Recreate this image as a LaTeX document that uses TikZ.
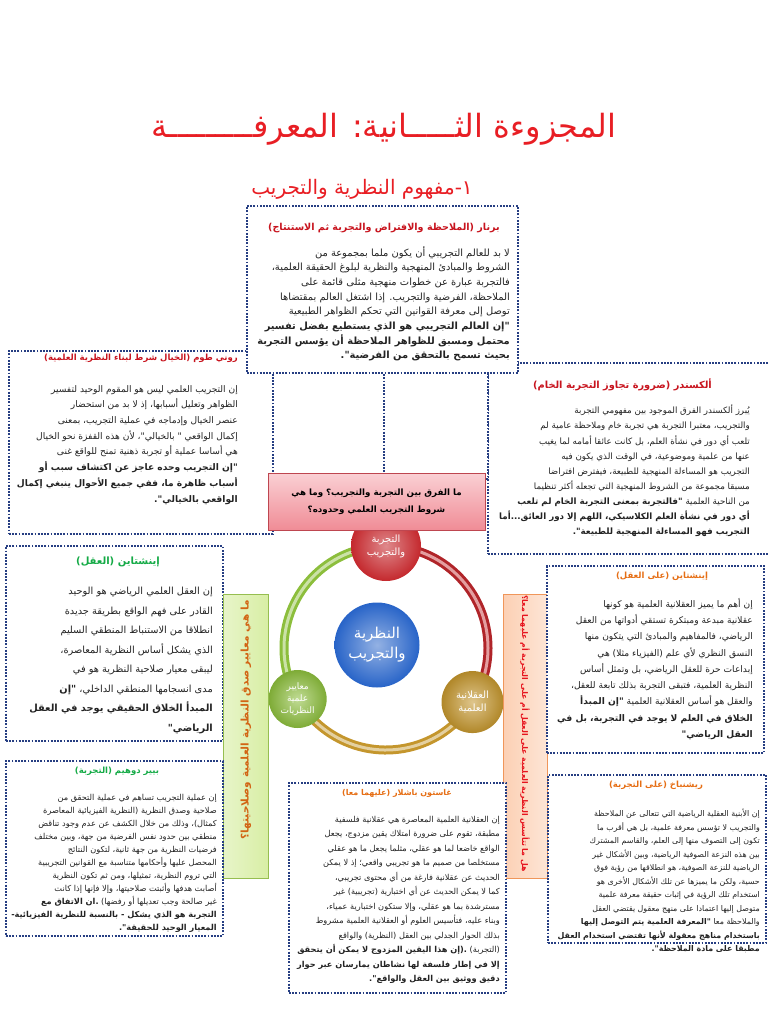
\documentclass[tikz,border=0pt]{standalone}
\usepackage{fontspec}
\usepackage{tikz}
\usetikzlibrary{positioning}
\TeXXeTstate=1
\newfontfamily\arabicfont[Script=Arabic]{DejaVu Sans}
\newcommand{\ar}[1]{{\arabicfont\beginR #1\endR}}
\definecolor{boxnavy}{RGB}{38,62,130}
\definecolor{titlered}{RGB}{232,30,36}
\definecolor{headred}{RGB}{200,20,30}
\definecolor{headgreen}{RGB}{20,170,70}
\definecolor{headorange}{RGB}{230,110,20}
\definecolor{bodygray}{RGB}{35,35,35}
\definecolor{qpinktop}{RGB}{250,208,212}
\definecolor{qpinkbot}{RGB}{240,140,150}
\definecolor{qpinkline}{RGB}{190,70,80}
\definecolor{sidegreen}{RGB}{216,238,165}
\definecolor{sidegreenline}{RGB}{150,190,80}
\definecolor{sidegreentext}{RGB}{210,100,20}
\definecolor{sidepeach}{RGB}{252,208,180}
\definecolor{sidepeachline}{RGB}{240,150,90}
\definecolor{sidepeachtext}{RGB}{230,20,30}
\definecolor{ballred}{RGB}{196,40,45}
\definecolor{ballgold}{RGB}{196,150,45}
\definecolor{ballgreen}{RGB}{140,190,60}
\definecolor{ballblue}{RGB}{40,100,200}
\tikzset{
  quotebox/.style={draw=boxnavy, line width=1.8pt, dash pattern=on 1.8pt off 1.4pt,
                   fill=white, anchor=north west, inner sep=0pt},
  qhead/.style={font=\fontsize{8.5}{10}\selectfont\bfseries, inner sep=0pt},
  qbody/.style={text=bodygray, align=right, anchor=north east, inner sep=0pt},
  sidebox/.style={draw, line width=0.8pt, inner sep=0pt},
  sidelab/.style={font=\fontsize{10.5}{13}\selectfont\bfseries, inner sep=0pt},
  ringarc/.style={line width=9pt},
  ringshine/.style={line width=3pt},
  ball/.style={circle, inner sep=0pt, text=white, align=center,
               font=\fontsize{10}{13}\selectfont},
}
\begin{document}
\begin{tikzpicture}[x=1pt,y=-1pt]
  \path[use as bounding box] (0,0) rectangle (768,1024);

  \node[font=\fontsize{32}{36}\selectfont, text=titlered] (title) at (384,129)
    {\ar{المجزوءة الثـــــانية: المعرفـــــــــة}};
  \node[font=\fontsize{20}{24}\selectfont, text=titlered] (subtitle) at (362,189)
    {\ar{١-مفهوم النظرية والتجريب}};

  % روني طوم
  \node[quotebox, minimum width=264, minimum height=183] (roni) at (8,350) {};
  \node[qhead, text=headred, anchor=east] (roniT) at (238,358)
    {\ar{روني طوم (الخيال شرط لبناء النظرية العلمية)}};
  \node[qbody, font=\fontsize{9.1}{15.7}\selectfont] (roniB) at (238,385)
    {\ar{إن التجريب العلمي ليس هو المقوم الوحيد لتفسير}\\
     \ar{الظواهر وتعليل أسبابها، إذ لا بد من استحضار}\\
     \ar{عنصر الخيال وإدماجه في عملية التجريب، بمعنى}\\
     \ar{إكمال الواقعي " بالخيالي"، لأن هذه القفزة نحو الخيال}\\
     \ar{هي أساسا عملية أو تجربة ذهنية تمنح للواقع غنى}\\
     \ar{\textbf{"إن التجريب وحده عاجز عن اكتشاف سبب أو}}\\
     \ar{\textbf{أسباب ظاهرة ما، ففي جميع الأحوال ينبغي إكمال}}\\
     \ar{\textbf{الواقعي بالخيالي".}}};

  % ألكسندر
  \node[quotebox, minimum width=283, minimum height=191] (alex) at (487,362) {};
  \node[qhead, text=headred, anchor=east, font=\fontsize{9.8}{12}\selectfont\bfseries] (alexT) at (712,385)
    {\ar{ألكسندر (ضرورة تجاوز التجربة الخام)}};
  \node[qbody, font=\fontsize{8.7}{15.1}\selectfont] (alexB) at (750,405)
    {\ar{يُبرز ألكسندر الفرق الموجود بين مفهومي التجربة}\\
     \ar{والتجريب، معتبرا التجربة هي تجربة خام وملاحظة عامية لم}\\
     \ar{تلعب أي دور في نشأة العلم، بل كانت عائقا أمامه لما يغيب}\\
     \ar{عنها من علمية وموضوعية، في الوقت الذي يكون فيه}\\
     \ar{التجريب هو المساءلة المنهجية للطبيعة، فيفترض افتراضا}\\
     \ar{مسبقا مجموعة من الشروط المنهجية التي تجعله أكثر تنظيما}\\
     \ar{من الناحية العلمية \textbf{"فالتجربة بمعنى التجربة الخام لم تلعب}}\\
     \ar{\textbf{أي دور في نشأة العلم الكلاسيكي، اللهم إلا دور العائق...أما}}\\
     \ar{\textbf{التجريب فهو المساءلة المنهجية للطبيعة".}}};

  % إطار فارغ تحت برنار
  \node[quotebox, minimum width=104, minimum height=118] (blank) at (383,360) {};

  % برنار
  \node[quotebox, minimum width=271, minimum height=167] (bernard) at (246,205) {};
  \node[qhead, text=headred, anchor=east, font=\fontsize{9.6}{12}\selectfont\bfseries] (bernardT) at (500,228)
    {\ar{برنار (الملاحظة والافتراض والتجربة ثم الاستنتاج)}};
  \node[qbody, font=\fontsize{9.9}{14.7}\selectfont] (bernardB) at (510,246)
    {\ar{لا بد للعالم التجريبي أن يكون ملما بمجموعة من}\\
     \ar{الشروط والمبادئ المنهجية والنظرية لبلوغ الحقيقة العلمية،}\\
     \ar{فالتجربة عبارة عن خطوات منهجية مثلى قائمة على}\\
     \ar{الملاحظة، الفرضية والتجريب. إذا اشتغل العالم بمقتضاها}\\
     \ar{توصل إلى معرفة القوانين التي تحكم الظواهر الطبيعية}\\
     \ar{\textbf{"إن العالم التجريبي هو الذي يستطيع بفضل تفسير}}\\
     \ar{\textbf{محتمل ومسبق للظواهر الملاحظة أن يؤسس التجربة}}\\
     \ar{\textbf{بحيث تسمح بالتحقق من الفرضية".}}};

  % الحلقة والكرات
  \coordinate (ring) at (386,648);
  \draw[ringarc, ballred!90!black] ([shift={(-90:102)}]ring) arc[start angle=-90, end angle=32, radius=102];
  \draw[ringarc, ballgold] ([shift={(32:102)}]ring) arc[start angle=32, end angle=150, radius=102];
  \draw[ringarc, ballgreen] ([shift={(150:102)}]ring) arc[start angle=150, end angle=270, radius=102];
  \draw[ringshine, ballred!45!white] ([shift={(-90:102)}]ring) arc[start angle=-90, end angle=32, radius=102];
  \draw[ringshine, ballgold!45!white] ([shift={(32:102)}]ring) arc[start angle=32, end angle=150, radius=102];
  \draw[ringshine, ballgreen!45!white] ([shift={(150:102)}]ring) arc[start angle=150, end angle=270, radius=102];

  \node[ball, minimum size=70, inner color=ballred!55!white, outer color=ballred] (expball)
    at ([shift={(-90:102)}]ring) {\ar{التجربة}\\\ar{والتجريب}};
  \node[ball, minimum size=62, inner color=ballgold!55!white, outer color=ballgold!90!black] (ratball)
    at ([shift={(32:102)}]ring) {\ar{العقلانية}\\\ar{العلمية}};
  \node[ball, minimum size=58, inner color=ballgreen!55!white, outer color=ballgreen!90!black,
        font=\fontsize{9}{12}\selectfont] (critball)
    at ([shift={(150:102)}]ring) {\ar{معايير}\\\ar{علمية}\\\ar{النظريات}};
  \node[ball, minimum size=85, inner color=ballblue!50!white, outer color=ballblue,
        font=\fontsize{15}{20}\selectfont] (coreball) at (377,645)
    {\ar{النظرية}\\\ar{والتجريب}};

  % السؤال الأول
  \node[draw=qpinkline, line width=0.8pt, top color=qpinktop, bottom color=qpinkbot,
        minimum width=217, minimum height=57, align=center,
        font=\fontsize{8.7}{17}\selectfont\bfseries] (question) at (376.5,501.5)
    {\ar{ما الفرق بين التجربة والتجريب؟ وما هي}\\\ar{شروط التجريب العلمي وحدوده؟}};

  % إينشتاين (العقل)
  \node[quotebox, minimum width=217, minimum height=195] (einL) at (5,545) {};
  \node[qhead, text=headgreen, font=\fontsize{10}{12}\selectfont\bfseries] (einLT) at (118,562) {\ar{إينشتاين (العقل)}};
  \node[qbody, font=\fontsize{9.8}{19.5}\selectfont] (einLB) at (213,587)
    {\ar{إن العقل العلمي الرياضي هو الوحيد}\\
     \ar{القادر على فهم الواقع بطريقة جديدة}\\
     \ar{انطلاقا من الاستنباط المنطقي السليم}\\
     \ar{الذي يشكل أساس النظرية المعاصرة،}\\
     \ar{ليبقى معيار صلاحية النظرية هو في}\\
     \ar{مدى انسجامها المنطقي الداخلي، \textbf{"إن}}\\
     \ar{\textbf{المبدأ الخلاق الحقيقي يوجد في العقل}}\\
     \ar{\textbf{الرياضي"}}};

  % السؤالان الجانبيان
  \node[sidebox, draw=sidegreenline, left color=sidegreen!60!white, right color=sidegreen,
        minimum width=45, minimum height=284] (critq) at (245.5,736) {};
  \node[sidelab, text=sidegreentext, rotate=90, anchor=east] (critqT) at (246,600)
    {\ar{ما هي معايير صدق النظرية العلمية وصلاحيتها؟}};
  \node[sidebox, draw=sidepeachline, left color=sidepeach, right color=sidepeach!55!white,
        minimum width=44, minimum height=284] (baseq) at (525,736) {};
  \node[sidelab, text=sidepeachtext, rotate=-90, anchor=east,
        font=\fontsize{7.8}{10}\selectfont\bfseries] (baseqT) at (525,872)
    {\ar{هل ما تتأسس النظرية العلمية على العقل أم على التجربة أم عليهما معا؟}};

  % إينشتاين (على العقل)
  \node[quotebox, minimum width=217, minimum height=187] (einR) at (546,565) {};
  \node[qhead, text=headorange] (einRT) at (662,576) {\ar{إينشتاين (على العقل)}};
  \node[qbody, font=\fontsize{9.1}{16.25}\selectfont] (einRB) at (753,598)
    {\ar{إن أهم ما يميز العقلانية العلمية هو كونها}\\
     \ar{عقلانية مبدعة ومبتكرة تستقي أدواتها من العقل}\\
     \ar{الرياضي، فالمفاهيم والمبادئ التي يتكون منها}\\
     \ar{النسق النظري لأي علم (الفيزياء مثلا) هي}\\
     \ar{إبداعات حرة للعقل الرياضي، بل وتمثل أساس}\\
     \ar{النظرية العلمية، فتبقى التجربة بذلك تابعة للعقل،}\\
     \ar{والعقل هو أساس العقلانية العلمية \textbf{"إن المبدأ}}\\
     \ar{\textbf{الخلاق في العلم لا يوجد في التجربة، بل في}}\\
     \ar{\textbf{العقل الرياضي"}}};

  % بيير دوهيم
  \node[quotebox, minimum width=217, minimum height=175] (duhem) at (5,760) {};
  \node[qhead, text=headgreen] (duhemT) at (117,771) {\ar{بيير دوهيم (التجربة)}};
  \node[qbody, font=\fontsize{8.2}{13}\selectfont] (duhemB) at (217,794)
    {\ar{إن عملية التجريب تساهم في عملية التحقق من}\\
     \ar{صلاحية وصدق النظرية (النظرية الفيزيائية المعاصرة}\\
     \ar{كمثال)، وذلك من خلال الكشف عن عدم وجود تناقض}\\
     \ar{منطقي بين حدود نفس الفرضية من جهة، وبين مختلف}\\
     \ar{فرضيات النظرية من جهة ثانية، لتكون النتائج}\\
     \ar{المحصل عليها وأحكامها متناسبة مع القوانين التجريبية}\\
     \ar{التي تروم النظرية، تمثيلها، ومن ثم تكون النظرية}\\
     \ar{أصابت هدفها وأثبتت صلاحيتها، وإلا فإنها إذا كانت}\\
     \ar{غير صالحة وجب تعديلها أو رفضها) \textbf{.ان الاتفاق مع}}\\
     \ar{\textbf{التجربة هو الذي يشكل - بالنسبة للنظرية الفيزيائية-}}\\
     \ar{\textbf{المعيار الوحيد للحقيقة".}}};

  % غاستون باشلار
  \node[quotebox, minimum width=217, minimum height=210] (bach) at (288,782) {};
  \node[qhead, text=headorange, font=\fontsize{8}{10}\selectfont\bfseries] (bachT) at (397,793) {\ar{غاستون باشلار (عليهما معا)}};
  \node[qbody, font=\fontsize{8.2}{14.5}\selectfont] (bachB) at (500,816)
    {\ar{إن العقلانية العلمية المعاصرة هي عقلانية فلسفية}\\
     \ar{مطبقة، تقوم على ضرورة امتلاك يقين مزدوج، يجعل}\\
     \ar{الواقع خاضعا لما هو عقلي، مثلما يجعل ما هو عقلي}\\
     \ar{مستخلصا من صميم ما هو تجريبي واقعي؛ إذ لا يمكن}\\
     \ar{الحديث عن عقلانية فارغة من أي محتوى تجريبي،}\\
     \ar{كما لا يمكن الحديث عن أي اختبارية (تجريبية) غير}\\
     \ar{مسترشدة بما هو عقلي، وإلا ستكون اختبارية عمياء،}\\
     \ar{وبناء عليه، فتأسيس العلوم أو العقلانية العلمية مشروط}\\
     \ar{بذلك الحوار الجدلي بين العقل (النظرية) والواقع}\\
     \ar{(التجربة) \textbf{.(إن هذا اليقين المزدوج لا يمكن أن يتحقق}}\\
     \ar{\textbf{إلا في إطار فلسفة لها نشاطان يمارسان عبر حوار}}\\
     \ar{\textbf{دقيق ووثيق بين العقل والواقع".}}};

  % ريشنباخ
  \node[quotebox, minimum width=218, minimum height=168] (reich) at (547,774) {};
  \node[qhead, text=headorange] (reichT) at (656,785) {\ar{ريشنباخ (على التجربة)}};
  \node[qbody, font=\fontsize{7.9}{13.5}\selectfont] (reichB) at (760,809)
    {\ar{إن الأبنية العقلية الرياضية التي تتعالى عن الملاحظة}\\
     \ar{والتجريب لا تؤسس معرفة علمية، بل هي أقرب ما}\\
     \ar{تكون إلى التصوف منها إلى العلم، والقاسم المشترك}\\
     \ar{بين هذه النزعة الصوفية الرياضية، وبين الأشكال غير}\\
     \ar{الرياضية للنزعة الصوفية، هو انطلاقها من رؤية فوق}\\
     \ar{حسية، ولكن ما يميزها عن تلك الأشكال الأخرى هو}\\
     \ar{استخدام تلك الرؤية في إثبات حقيقة معرفة علمية}\\
     \ar{متوصل إليها اعتمادا على منهج معقول يقتضي العقل}\\
     \ar{والملاحظة معا \textbf{"المعرفة العلمية يتم التوصل إليها}}\\
     \ar{\textbf{باستخدام مناهج معقولة لأنها تقتضي استخدام العقل}}\\
     \ar{\textbf{مطبقا على مادة الملاحظة".}}};
\end{tikzpicture}
\end{document}
